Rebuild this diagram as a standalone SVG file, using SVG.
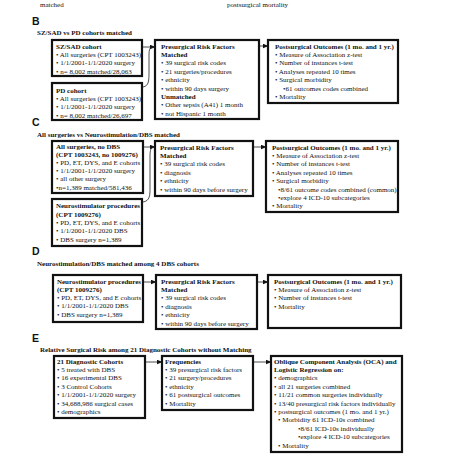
<svg xmlns="http://www.w3.org/2000/svg" width="474" height="474" viewBox="0 0 474 474">
<defs>
<style>
.t{font-family:"Liberation Serif","Times New Roman",serif;font-size:7px;fill:#111}
.b{font-family:"Liberation Serif","Times New Roman",serif;font-size:7px;font-weight:bold;fill:#111}
.h{font-family:"Liberation Sans",Arial,sans-serif;font-size:10.5px;font-weight:bold;fill:#111}
.box{fill:#fff;stroke:#111;stroke-width:2.2}
.c{fill:none;stroke:#222;stroke-width:0.8}
</style>
<marker id="ah" markerWidth="6" markerHeight="5" refX="5.5" refY="2.5" orient="auto" markerUnits="userSpaceOnUse">
<path d="M0,0 L6,2.5 L0,5 Z" fill="#111"/>
</marker>
</defs>
<rect width="474" height="474" fill="#fff"/>
<text class="t" x="40" y="7">matched</text>
<text class="t" x="227" y="7">postsurgical mortality</text>

<!-- B -->
<text class="h" x="32" y="25">B</text>
<text class="b" x="37" y="34.5">SZ/SAD vs PD cohorts matched</text>
<g id="b-szsad">
<rect class="box" x="52" y="40" width="90" height="36"/>
<text class="b" x="56" y="48.5">SZ/SAD cohort</text>
<text class="t" x="56" y="56.9">• All surgeries (CPT 1003243)</text>
<text class="t" x="56" y="65.3">• 1/1/2001-1/1/2020 surgery</text>
<text class="t" x="56" y="73.7">• n= 8,002 matched/28,063</text>
</g>
<g id="b-pd">
<rect class="box" x="52" y="83" width="90" height="37"/>
<text class="b" x="56" y="92.5">PD cohort</text>
<text class="t" x="56" y="100.9">• All surgeries (CPT 1003243)</text>
<text class="t" x="56" y="109.3">• 1/1/2001-1/1/2020 surgery</text>
<text class="t" x="56" y="117.7">• n= 8,002 matched/26,697</text>
</g>
<g id="b-pre">
<rect class="box" x="155" y="40" width="104" height="79"/>
<text class="b" x="161" y="48.5">Presurgical Risk Factors</text>
<text class="b" x="161" y="56.9">Matched</text>
<text class="t" x="161" y="65.3">• 39 surgical risk codes</text>
<text class="t" x="161" y="73.7">• 21 surgeries/procedures</text>
<text class="t" x="161" y="82.1">• ethnicity</text>
<text class="t" x="161" y="90.5">• within 90 days surgery</text>
<text class="b" x="161" y="98.9">Unmatched</text>
<text class="t" x="161" y="107.3">• Other sepsis (A41) 1 month</text>
<text class="t" x="161" y="115.7">• not Hispanic 1 month</text>
</g>
<g id="b-post">
<rect class="box" x="268" y="40" width="130" height="63"/>
<text class="b" x="275" y="48.5">Postsurgical Outcomes (1 mo. and 1 yr.)</text>
<text class="t" x="275" y="56.9">• Measure of Association z-test</text>
<text class="t" x="275" y="65.3">• Number of instances t-test</text>
<text class="t" x="275" y="73.7">• Analyses repeated 10 times</text>
<text class="t" x="275" y="82.1">• Surgical morbidity</text>
<text class="t" x="283" y="90.5">•61 outcomes codes combined</text>
<text class="t" x="275" y="98.9">• Mortality</text>
</g>

<!-- C -->
<text class="h" x="32" y="126">C</text>
<text class="b" x="37" y="136.5">All surgeries vs Neurostimulation/DBS matched</text>
<g id="c-all">
<rect class="box" x="52" y="141" width="91" height="52"/>
<text class="b" x="56" y="148.5">All surgeries, no DBS</text>
<text class="b" x="56" y="156.7">(CPT 1003243, no 1009276)</text>
<text class="t" x="56" y="164.9">• PD, ET, DYS, and E cohorts</text>
<text class="t" x="56" y="173.1">• 1/1/2001-1/1/2020 surgery</text>
<text class="t" x="56" y="181.3">• all other surgery</text>
<text class="t" x="56" y="189.5">•n=1,389 matched/581,436</text>
</g>
<g id="c-neuro">
<rect class="box" x="52" y="199" width="90" height="47"/>
<text class="b" x="56" y="208.3" textLength="84" lengthAdjust="spacingAndGlyphs">Neurostimulator procedures</text>
<text class="b" x="56" y="216.6">(CPT 1009276)</text>
<text class="t" x="56" y="224.9">• PD, ET, DYS, and E cohorts</text>
<text class="t" x="56" y="233.2">• 1/1/2001-1/1/2020 DBS</text>
<text class="t" x="56" y="241.5">• DBS surgery n=1,389</text>
</g>
<g id="c-pre">
<rect class="box" x="155" y="141" width="98" height="55"/>
<text class="b" x="160" y="149.5">Presurgical Risk Factors</text>
<text class="b" x="160" y="157.9">Matched</text>
<text class="t" x="160" y="166.3">• 39 surgical risk codes</text>
<text class="t" x="160" y="174.7">• diagnosis</text>
<text class="t" x="160" y="183.1">• ethnicity</text>
<text class="t" x="160" y="191.5">• within 90 days before surgery</text>
</g>
<g id="c-post">
<rect class="box" x="266" y="141" width="132" height="71"/>
<text class="b" x="272" y="149.5">Postsurgical Outcomes (1 mo. and 1 yr.)</text>
<text class="t" x="272" y="157.9">• Measure of Association z-test</text>
<text class="t" x="272" y="166.3">• Number of instances t-test</text>
<text class="t" x="272" y="174.7">• Analyses repeated 10 times</text>
<text class="t" x="272" y="183.1">• Surgical morbidity</text>
<text class="t" x="278" y="191.5">•8/61 outcome codes combined (common)</text>
<text class="t" x="278" y="199.9">•explore 4 ICD-10 subcategories</text>
<text class="t" x="272" y="208.3">• Mortality</text>
</g>

<!-- D -->
<text class="h" x="32" y="255">D</text>
<text class="b" x="37" y="265.5">Neurostimulation/DBS matched among 4 DBS cohorts</text>
<g id="d-neuro">
<rect class="box" x="53" y="275" width="90" height="47"/>
<text class="b" x="57" y="283.5" textLength="84" lengthAdjust="spacingAndGlyphs">Neurostimulator procedures</text>
<text class="b" x="57" y="291.8">(CPT 1009276)</text>
<text class="t" x="57" y="300.1">• PD, ET, DYS, and E cohorts</text>
<text class="t" x="57" y="308.4">• 1/1/2001-1/1/2020 DBS</text>
<text class="t" x="57" y="316.7">• DBS surgery n=1,389</text>
</g>
<g id="d-pre">
<rect class="box" x="156" y="275" width="101" height="54"/>
<text class="b" x="161" y="283.5">Presurgical Risk Factors</text>
<text class="b" x="161" y="291.9">Matched</text>
<text class="t" x="161" y="300.3">• 39 surgical risk codes</text>
<text class="t" x="161" y="308.7">• diagnosis</text>
<text class="t" x="161" y="317.1">• ethnicity</text>
<text class="t" x="161" y="325.5">• within 90 days before surgery</text>
</g>
<g id="d-post">
<rect class="box" x="268" y="275" width="133" height="53"/>
<text class="b" x="274" y="283.5">Postsurgical Outcomes (1 mo. and 1 yr.)</text>
<text class="t" x="274" y="291.9">• Measure of Association z-test</text>
<text class="t" x="274" y="300.3">• Number of instances t-test</text>
<text class="t" x="274" y="308.7">• Mortality</text>
</g>

<!-- E -->
<text class="h" x="32" y="342">E</text>
<text class="b" x="40" y="351.5">Relative Surgical Risk among 21 Diagnostic Cohorts without Matching</text>
<g id="e-cohorts">
<rect class="box" x="54" y="356" width="91" height="62"/>
<text class="b" x="57" y="363.5">21 Diagnostic Cohorts</text>
<text class="t" x="57" y="371.9">• 5 treated with DBS</text>
<text class="t" x="57" y="380.3">• 16 experimental DBS</text>
<text class="t" x="57" y="388.7">• 3 Control Cohorts</text>
<text class="t" x="57" y="397.1">• 1/1/2001-1/1/2020 surgery</text>
<text class="t" x="57" y="405.5">• 34,688,986 surgical cases</text>
<text class="t" x="57" y="413.9">• demographics</text>
</g>
<g id="e-freq">
<rect class="box" x="162" y="356" width="91" height="54"/>
<text class="b" x="165" y="363.5">Frequencies</text>
<text class="t" x="165" y="371.9">• 39 presurgical risk factors</text>
<text class="t" x="165" y="380.3">• 21 surgery/procedures</text>
<text class="t" x="165" y="388.7">• ethnicity</text>
<text class="t" x="165" y="397.1">• 61 postsurgical outcomes</text>
<text class="t" x="165" y="405.5">• Mortality</text>
</g>
<g id="e-oca">
<rect class="box" x="271" y="356" width="131" height="96"/>
<text class="b" x="274" y="363.5">Oblique Component Analysis (OCA) and</text>
<text class="b" x="274" y="371.9">Logistic Regression on:</text>
<text class="t" x="274" y="380.3">• demographics</text>
<text class="t" x="274" y="388.7">• all 21 surgeries combined</text>
<text class="t" x="274" y="397.1">• 11/21 common surgeries individually</text>
<text class="t" x="274" y="405.5">• 13/40 presurgical risk factors individually</text>
<text class="t" x="274" y="413.9">• postsurgical outcomes (1 mo. and 1 yr.)</text>
<text class="t" x="278" y="422.3">• Morbidity 61 ICD-10s combined</text>
<text class="t" x="298" y="430.7">•8/61 ICD-10s individually</text>
<text class="t" x="298" y="439.1">•explore 4 ICD-10 subcategories</text>
<text class="t" x="278" y="447.5">• Mortality</text>
</g>

<g id="connectors">
<line class="c" x1="143" y1="47" x2="155" y2="47" marker-end="url(#ah)"/>
<path class="c" d="M143,87 C149,86 149,80 149,72 L149,55 C149,49 150,47 153,47"/>
<line class="c" x1="260" y1="46" x2="268" y2="46" marker-end="url(#ah)"/>
<line class="c" x1="144" y1="147" x2="155" y2="147" marker-end="url(#ah)"/>
<path class="c" d="M143,202 C150,201 150,195 150,188 L150,156 C150,150 151,147 154,147"/>
<line class="c" x1="254" y1="147" x2="266" y2="147" marker-end="url(#ah)"/>
<line class="c" x1="144" y1="282" x2="156" y2="282" marker-end="url(#ah)"/>
<line class="c" x1="258" y1="282" x2="268" y2="282" marker-end="url(#ah)"/>
<line class="c" x1="146" y1="362" x2="162" y2="362" marker-end="url(#ah)"/>
<line class="c" x1="254" y1="362" x2="271" y2="362" marker-end="url(#ah)"/>
</g>
</svg>
